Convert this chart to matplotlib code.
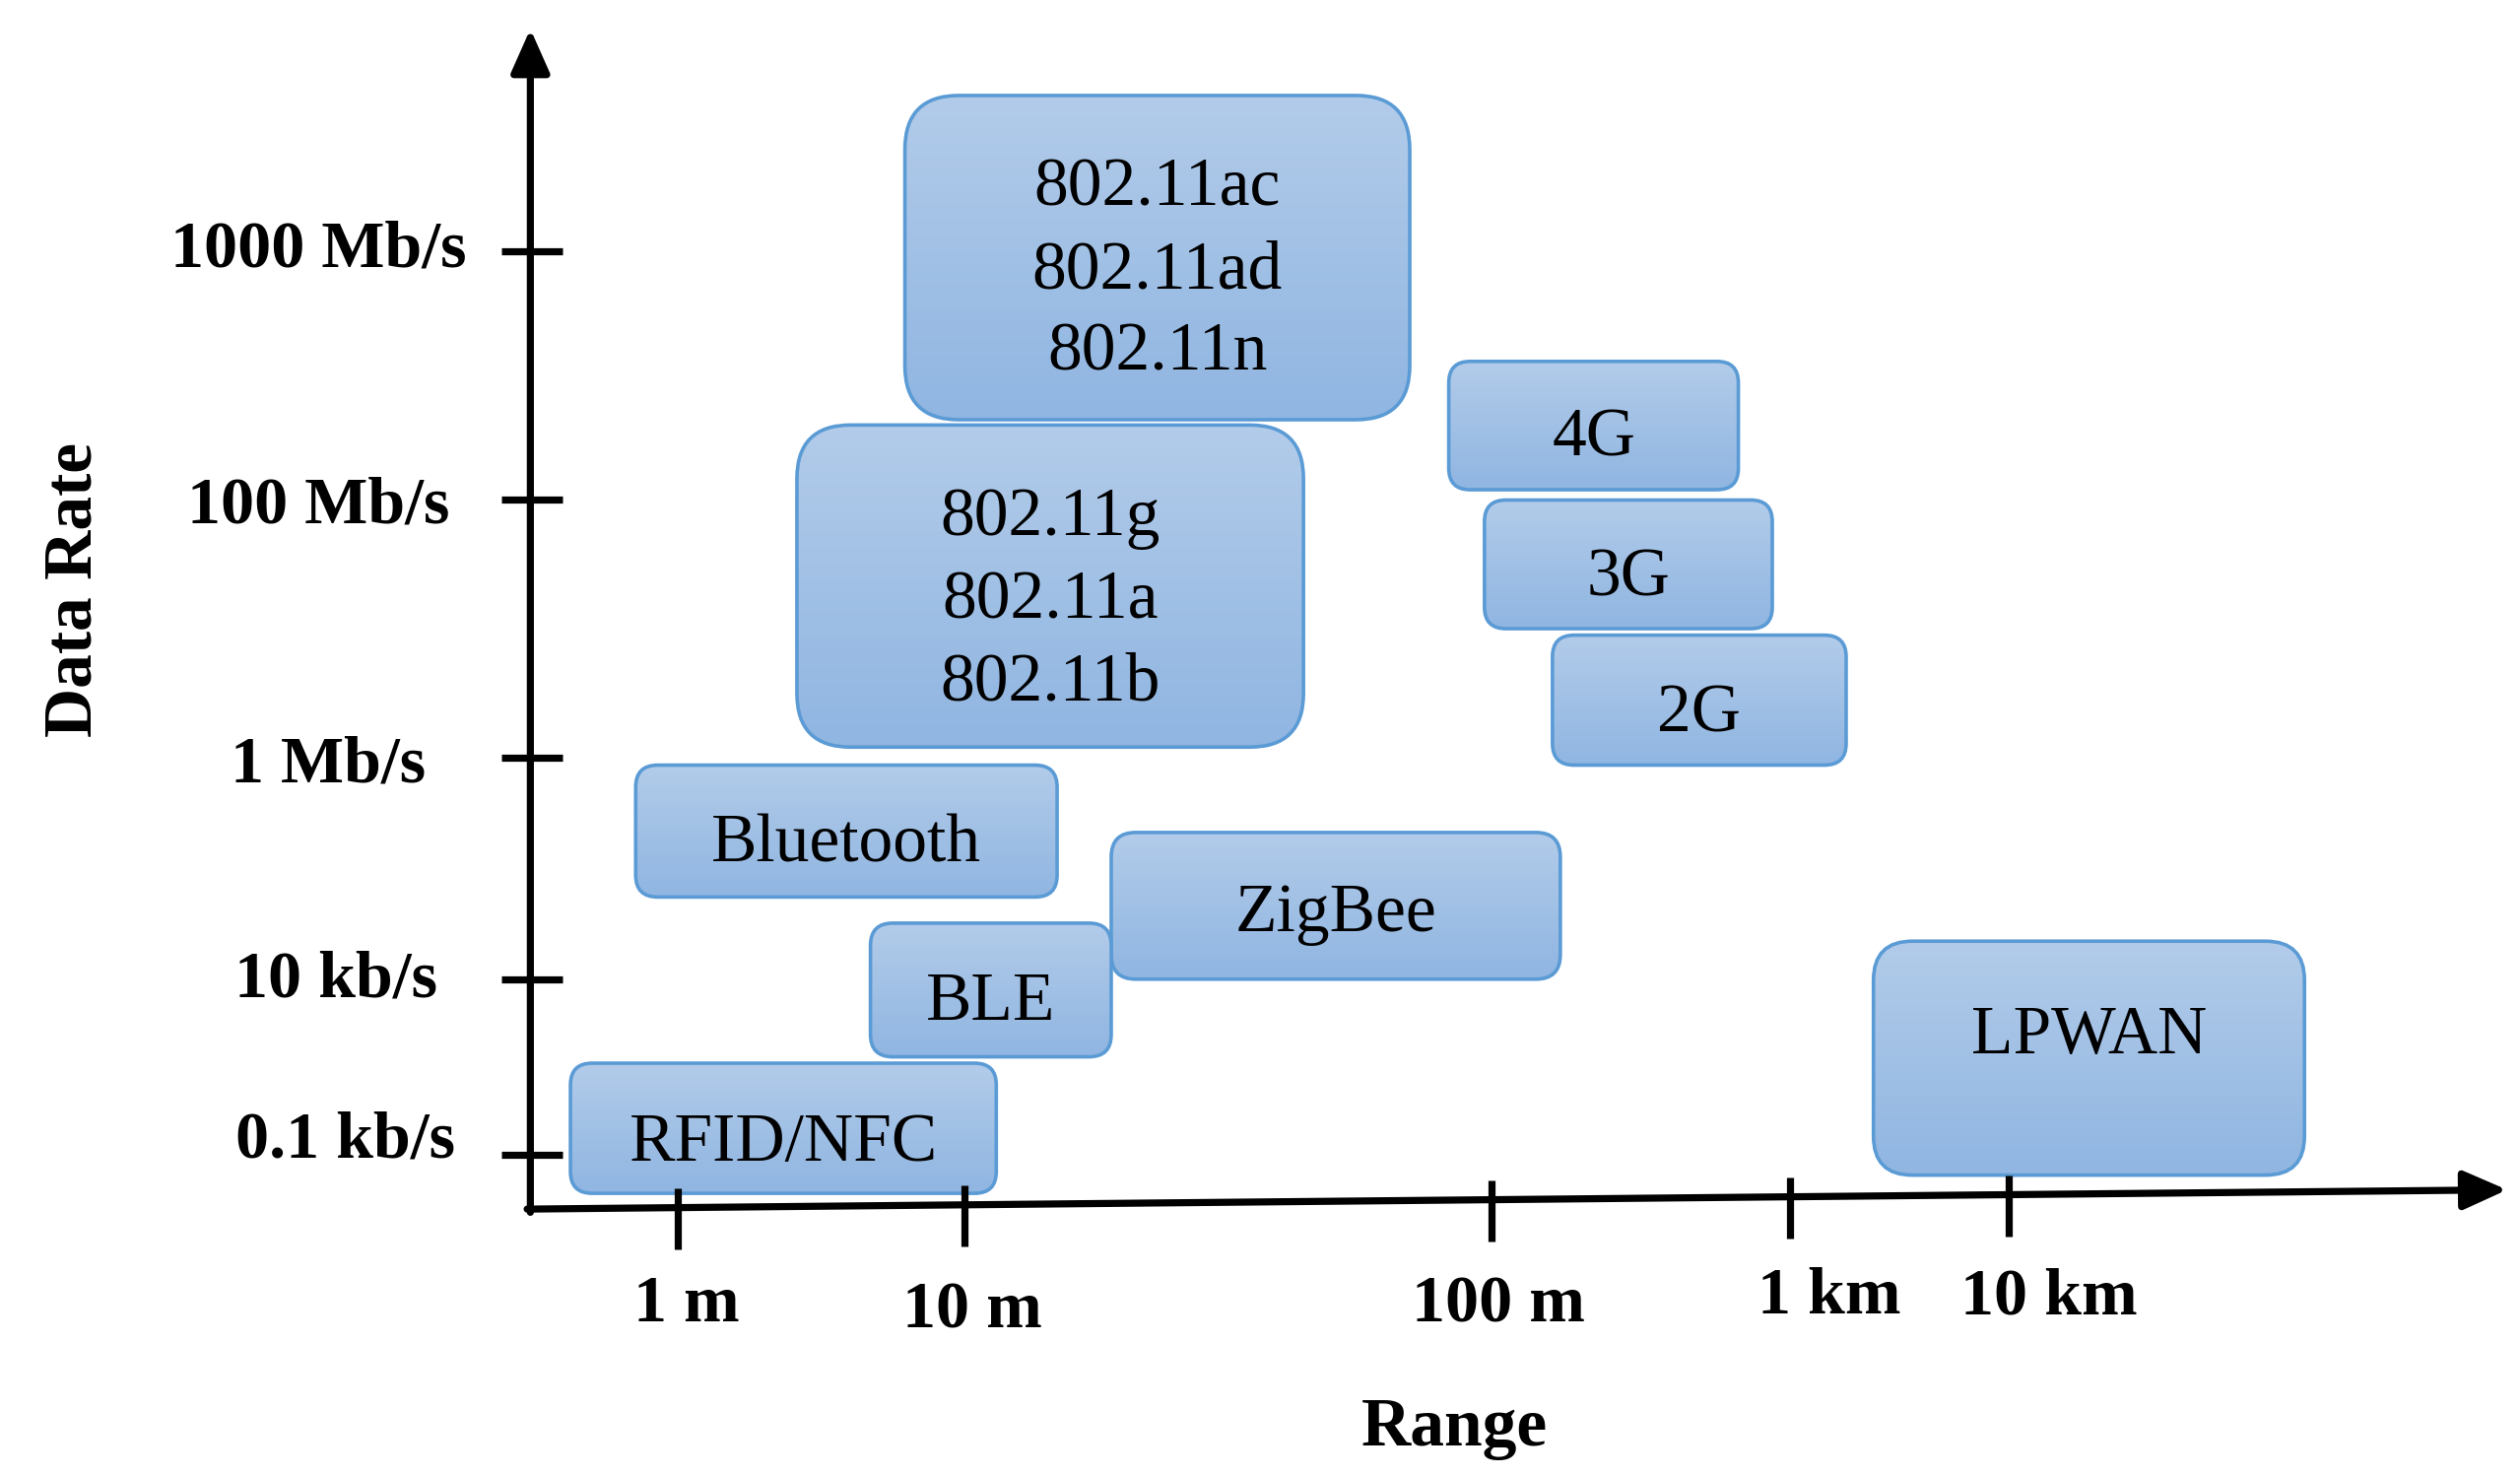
import numpy as np
import matplotlib
matplotlib.use("Agg")
import matplotlib.pyplot as plt
import matplotlib.transforms as mtransforms
from matplotlib.patches import FancyBboxPatch, Rectangle

plt.rcParams['font.family'] = ['Liberation Serif', 'DejaVu Serif']

# ---- data ----
technologies = ["802.11ac\n802.11ad\n802.11n", "802.11g\n802.11a\n802.11b",
                "4G", "3G", "2G", "Bluetooth", "ZigBee", "BLE", "RFID/NFC", "LPWAN"]
range_min_m = [6.2, 2.6, 83, 97, 160, 0.71, 19, 4.7, 0.42, 2400]
range_max_m = [70, 44, 670, 870, 1800, 15, 170, 19, 11.5, 225000]
rate_min_mbps = [210, 1.2, 110, 10, 0.85, 0.055, 0.01, 0.0013, 0.000036, 0.000058]
rate_max_mbps = [4200, 200, 360, 100, 8.9, 0.85, 0.21, 0.032, 0.0011, 0.022]

range_ticks_m = [1, 10, 100, 1000, 10000]
range_tick_labels = ["1 m", "10 m", "100 m", "1 km", "10 km"]
rate_ticks_mbps = [1e-4, 1e-2, 1, 100, 1000]
rate_tick_labels = ["0.1 kb/s", "10 kb/s", "1 Mb/s", "100 Mb/s", "1000 Mb/s"]

# ---- layout (in 1568x918 sketch pixels) ----
W, H = 1568, 918
DPI = 200
S = 2558 / W
x_tick_px = [422, 600, 928, 1114, 1250]          # the schematic axis is not evenly spaced
y_tick_px = [718, 609, 471, 311, 156]
x_label_dx = [5, 5, 4, 24, 25]
x_label_base = [822, 826, 822, 817, 817]
y_label_right = [283, 272, 265, 280, 290]
y_label_dy = [2, 11, 15, 14, 10]
text_dy = [4.5, 5.5, 4.5, 5, 5.5, 5, 1.5, 4.5, 6, -17]


def piecewise(a, b):
    a = np.asarray(a, float)
    b = np.asarray(b, float)
    s0 = (b[1] - b[0]) / (a[1] - a[0])
    s1 = (b[-1] - b[-2]) / (a[-1] - a[-2])

    def f(t):
        t = np.asarray(t, float)
        out = np.interp(t, a, b)
        out = np.where(t < a[0], b[0] + (t - a[0]) * s0, out)
        out = np.where(t > a[-1], b[-1] + (t - a[-1]) * s1, out)
        return out
    return f


xf = piecewise(np.log10(range_ticks_m), x_tick_px)
xi = piecewise(x_tick_px, np.log10(range_ticks_m))
yup = [H - p for p in y_tick_px]
yf = piecewise(np.log10(rate_ticks_mbps), yup)
yi = piecewise(yup, np.log10(rate_ticks_mbps))


def fwd_x(v):
    return xf(np.log10(np.maximum(v, 1e-300)))


def inv_x(p):
    return 10 ** xi(p)


def fwd_y(v):
    return yf(np.log10(np.maximum(v, 1e-300)))


def inv_y(p):
    return 10 ** yi(p)


fig = plt.figure(figsize=(2558 / DPI, 1498 / DPI), dpi=DPI)
ax = fig.add_axes([0, 0, 1, 1])
ax.set_xscale('function', functions=(fwd_x, inv_x))
ax.set_yscale('function', functions=(fwd_y, inv_y))
ax.set_xlim(float(inv_x(0)), float(inv_x(W)))
ax.set_ylim(float(inv_y(0)), float(inv_y(H)))
ax.xaxis.set_major_locator(matplotlib.ticker.NullLocator())
ax.yaxis.set_major_locator(matplotlib.ticker.NullLocator())
ax.xaxis.set_minor_locator(matplotlib.ticker.NullLocator())
ax.yaxis.set_minor_locator(matplotlib.ticker.NullLocator())
ax.axis('off')

to_axes = ax.transData + ax.transAxes.inverted()


def P(x, y):
    return (x / W, 1 - y / H)


def off(dx, dy):
    return mtransforms.ScaledTranslation(dx * S / DPI, -dy * S / DPI, fig.dpi_scale_trans)


lw_axis = 2.6
# axes with arrows
ax.annotate('', xy=P(330, 18), xytext=P(330, 754), xycoords='axes fraction',
            arrowprops=dict(arrowstyle='-|>,head_length=0.45,head_width=0.2', lw=lw_axis,
                            color='black', shrinkA=0, shrinkB=0, mutation_scale=30), zorder=6)
ax.annotate('', xy=P(1560, 740), xytext=P(328, 752), xycoords='axes fraction',
            arrowprops=dict(arrowstyle='-|>,head_length=0.45,head_width=0.2', lw=lw_axis,
                            color='black', shrinkA=0, shrinkB=0, mutation_scale=30), zorder=6)

# x ticks and labels
blend_x = mtransforms.blended_transform_factory(ax.transData, ax.transAxes)
for t, lab, dx, base in zip(range_ticks_m, range_tick_labels, x_label_dx, x_label_base):
    xa = to_axes.transform((t, 1.0))[0]
    ly = 752 - 12 * (xa * W - 330) / 1228
    ax.plot([t, t], [1 - (ly - 12) / H, 1 - (ly + 26) / H], transform=blend_x,
            color='black', lw=lw_axis, solid_capstyle='butt', zorder=7)
    ax.text(t, 1 - base / H, lab, transform=blend_x + off(dx, 0), ha='center', va='baseline',
            fontsize=24.5, fontweight='bold')

# y ticks and labels
blend_y = mtransforms.blended_transform_factory(ax.transAxes, ax.transData)
for t, lab, xr, dy in zip(rate_ticks_mbps, rate_tick_labels, y_label_right, y_label_dy):
    ax.plot([312 / W, 350 / W], [t, t], transform=blend_y, color='black', lw=lw_axis,
            solid_capstyle='butt', zorder=7)
    ax.text(xr / W, t, lab, transform=blend_y + off(0, dy), ha='right', va='baseline',
            fontsize=24.5, fontweight='bold')

# axis titles
ax.text(*P(905, 899), 'Range', transform=ax.transAxes, ha='center', va='baseline',
        fontsize=25, fontweight='bold')
ax.text(*P(46, 367), 'Data Rate', transform=ax.transAxes, ha='center', va='center',
        rotation=90, fontsize=25, fontweight='bold')

# technology boxes with vertical gradient
AW, AH = 2558, 1498
top_c = np.array([178, 203, 233]) / 255
bot_c = np.array([143, 181, 225]) / 255
n = 60
for i, name in enumerate(technologies):
    (x0, y0), (x1, y1) = to_axes.transform([(range_min_m[i], rate_min_mbps[i]),
                                            (range_max_m[i], rate_max_mbps[i])])
    w, h = x1 - x0, y1 - y0
    r_px = min(w * AW, h * AH) / 6
    z = 2 + i * 0.05
    box = FancyBboxPatch((x0, y0), w, h, boxstyle=f"round,pad=0,rounding_size={r_px / AW}",
                         mutation_aspect=AW / AH, transform=ax.transAxes,
                         facecolor='none', edgecolor='#5B9BD5', lw=1.3, zorder=z + 0.02)
    for k in range(n):
        frac = (k + 0.5) / n
        col = bot_c + (top_c - bot_c) * frac
        strip = Rectangle((x0, y0 + k * h / n), w, h / n * 1.1, transform=ax.transAxes,
                          facecolor=col, edgecolor='none', zorder=z)
        ax.add_patch(strip)
        strip.set_clip_path(box)
    ax.add_patch(box)
    ax.text(x0 + w / 2, y0 + h / 2 - (text_dy[i] + 4) / H, name, transform=ax.transAxes,
            ha='center', va='center', fontsize=25, linespacing=1.42, zorder=z + 0.03)

fig.savefig('out.png', dpi=DPI)
plt.close(fig)
